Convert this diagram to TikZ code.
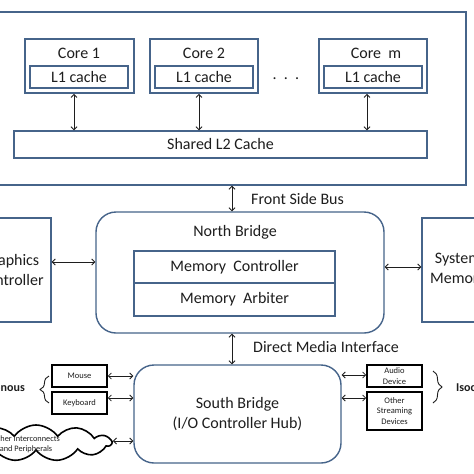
\documentclass[tikz,border=0pt]{standalone}
\usepackage{fontspec}
\setmainfont{Carlito}
\usetikzlibrary{arrows.meta,shapes.symbols,decorations.pathreplacing}
\definecolor{bord}{RGB}{70,100,138}
\definecolor{txt}{RGB}{30,30,30}
\begin{document}
\begin{tikzpicture}[x=1pt,y=-1pt,
  every node/.style={text=txt,inner sep=0pt,font=\fontsize{16}{20}\selectfont},
  bbox/.style={draw=bord,line width=1.4pt,align=center},
  cbox/.style={draw=bord,line width=1.8pt},
  rbox/.style={draw=bord,line width=1.4pt,rounded corners=20pt},
  kbox/.style={draw=black,line width=1.6pt,align=center,font=\fontsize{8.5}{10.5}\selectfont},
  arr/.style={draw=txt,line width=0.8pt,{Straight Barb[length=3pt,width=6pt]}-{Straight Barb[length=3pt,width=6pt]}},
  brc/.style={draw=txt,line width=0.9pt,decorate,decoration={brace,amplitude=9pt}},
  lbl/.style={font=\fontsize{16}{20}\selectfont}]
\clip (0,0) rectangle (474,474);
\fill[white] (0,0) rectangle (474,474);
% CPU
\node[bbox,minimum width=476pt,minimum height=173pt] (cpu) at (228,98.5) {};
\node[cbox,minimum width=109pt,minimum height=54pt] (c1) at (79.5,66) {};
\node[cbox,minimum width=108pt,minimum height=54pt] (c2) at (204,66) {};
\node[cbox,minimum width=108pt,minimum height=54pt] (cm) at (373,66) {};
\node (t1) at (79,53) {Core 1};
\node (t2) at (204,53) {Core 2};
\node (tm) at (376,53) {Core\ \ m};
\node[cbox,minimum width=98pt,minimum height=22pt] (l1a) at (79,77) {L1 cache};
\node[cbox,minimum width=98pt,minimum height=22pt] (l1b) at (204,77) {L1 cache};
\node[cbox,minimum width=98pt,minimum height=22pt] (l1m) at (373,77) {L1 cache};
\node (dots) at (286,79) {.\ \ .\ \ .};
\node[bbox,minimum width=413pt,minimum height=27pt] (l2) at (220.5,144.5) {Shared L2 Cache};
\draw[arr] ([xshift=-5.5pt]c1.south) -- ([xshift=-5.5pt]c1.south |- l2.north);
\draw[arr] ([xshift=-5pt]c2.south) -- ([xshift=-5pt]c2.south |- l2.north);
\draw[arr] ([xshift=-6pt]cm.south) -- ([xshift=-6pt]cm.south |- l2.north);
% North bridge
\node[rbox,minimum width=288pt,minimum height=121pt] (nb) at (240,272.5) {};
\node (nbt) at (235,232) {North Bridge};
\node[bbox,minimum width=201pt,minimum height=32pt] (mc) at (234.5,267) {Memory\ \ Controller};
\node[bbox,minimum width=201pt,minimum height=33pt] (ma) at (234.5,299.5) {Memory\ \ Arbiter};
\coordinate (bx) at (232,0);
\draw[arr] (cpu.south -| bx) -- (nb.north -| bx);
\node[anchor=west] (fsb) at (251,199) {Front Side Bus};
% Graphics / memory
\node[bbox,minimum width=80pt,minimum height=104pt] (gc) at (11,270) {Graphics\\Controller};
\node[bbox,minimum width=72pt,minimum height=104pt] (sm) at (458,270) {System\\Memory};
\coordinate (gy) at (0,262);
\coordinate (sy) at (0,267);
\draw[arr] (gc.east |- gy) -- (nb.west |- gy);
\draw[arr] (nb.east |- sy) -- (sm.west |- sy);
% South bridge
\node[rbox,minimum width=207pt,minimum height=98pt,align=center] (sb) at (237.5,414) {South Bridge\\(I/O Controller Hub)};
\draw[arr] (nb.south -| bx) -- (sb.north -| bx);
\node[anchor=west] (dmi) at (253,347) {Direct Media Interface};
% left devices
\node[kbox,minimum width=55pt,minimum height=22pt] (mouse) at (79.5,376) {Mouse};
\node[kbox,minimum width=55pt,minimum height=22pt] (kb) at (79.5,403) {Keyboard};
\coordinate (my) at (0,376);
\coordinate (ky) at (0,398);
\draw[arr] (mouse.east |- my) -- (sb.west |- my);
\draw[arr] (kb.east |- ky) -- (sb.west |- ky);
\draw[brc] (49,403) -- (49,376);
\node[anchor=east,font=\bfseries\fontsize{12}{14}\selectfont] (asy) at (25,388) {Asynchronous};
\node[cloud,draw=black,fill=white,line width=1.6pt,cloud puffs=11,cloud puff arc=110,aspect=4.5,minimum width=150pt,minimum height=36pt] (cl) at (36,443) {};
\node[align=center,font=\fontsize{8.3}{10}\selectfont] (clt) at (26,444) {Other Interconnects\\and Peripherals};
\coordinate (cy) at (0,441);
\draw[arr] (cl.east |- cy) -- (sb.west |- cy);
% right devices
\node[kbox,minimum width=55pt,minimum height=22pt] (aud) at (394.5,376) {Audio\\Device};
\node[kbox,minimum width=55pt,minimum height=38pt] (osd) at (394.5,411) {Other\\Streaming\\Devices};
\coordinate (ay) at (0,375);
\coordinate (oy) at (0,398);
\draw[arr] (sb.east |- ay) -- (aud.west |- ay);
\draw[arr] (sb.east |- oy) -- (osd.west |- oy);
\draw[brc] (433,371) -- (433,403);
\node[anchor=west,font=\bfseries\fontsize{12}{14}\selectfont] (iso) at (456,387) {Isochronous};
\end{tikzpicture}
\end{document}
